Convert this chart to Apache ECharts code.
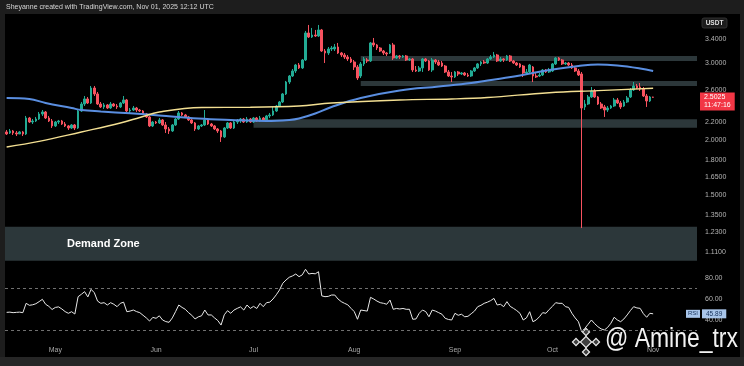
<!DOCTYPE html>
<html><head><meta charset="utf-8">
<script src="https://cdn.jsdelivr.net/npm/echarts@6/dist/echarts.min.js"></script>
<style>html,body{margin:0;padding:0;background:#000;}#c{width:744px;height:366px;}</style>
</head><body><div id="c"></div>
<script>
// ---------- data ----------
const startDate = '2025-04-16';
const dayCount = 213;
const categories = [];
(function () {
  const d0 = new Date(startDate + 'T00:00:00Z');
  for (let i = 0; i < dayCount; i++) {
    categories.push(new Date(d0.getTime() + i * 86400000).toISOString().slice(0, 10));
  }
})();

const monthTickDates = ['2025-05-01','2025-06-01','2025-07-01','2025-08-01','2025-09-01','2025-10-01','2025-11-01'];
const monthTickLabels = ['May','Jun','Jul','Aug','Sep','Oct','Nov'];
const priceTicks = [3.4, 3.0, 2.6, 2.2, 2.0, 1.8, 1.65, 1.5, 1.35, 1.23, 1.11];
const rsiTicks = [40, 60, 80];
const priceAxisMin = 1.0589, priceAxisMax = 3.877;
const rsiAxisMin = 18.1, rsiAxisMax = 94.3;

const opens = [2.086,2.075,2.097,2.075,2.064,2.086,2.064,2.245,2.198,2.210,
2.233,2.293,2.317,2.245,2.210,2.153,2.198,2.210,2.175,2.153,
2.130,2.164,2.130,2.329,2.416,2.481,2.429,2.628,2.547,2.416,
2.379,2.404,2.366,2.416,2.391,2.379,2.429,2.468,2.329,2.341,
2.366,2.341,2.329,2.293,2.257,2.153,2.198,2.187,2.222,2.164,
2.119,2.097,2.164,2.233,2.305,2.281,2.257,2.222,2.187,2.119,
2.153,2.164,2.222,2.175,2.153,2.119,2.097,2.032,2.130,2.187,
2.130,2.198,2.210,2.233,2.198,2.233,2.198,2.245,2.210,2.245,
2.222,2.269,2.281,2.329,2.391,2.442,2.547,2.712,2.799,2.874,
2.966,2.920,3.045,3.509,3.436,3.472,3.454,3.565,3.192,3.159,
3.226,3.226,3.260,3.159,3.126,3.093,3.061,3.013,2.935,2.799,
2.982,3.045,3.029,3.330,3.295,3.243,3.192,3.159,3.159,3.295,
3.077,3.110,3.093,3.110,3.045,3.061,2.889,2.874,2.920,3.061,
3.029,2.889,3.045,3.013,2.997,2.950,2.859,2.799,2.785,2.859,
2.829,2.844,2.814,2.799,2.874,2.920,2.982,3.013,2.997,3.061,
3.093,3.126,3.029,3.061,3.045,3.110,3.029,2.997,2.982,2.950,
2.844,2.859,2.935,2.799,2.799,2.814,2.889,2.859,2.874,2.982,
3.077,3.045,2.982,2.997,2.966,2.920,2.874,2.829,2.379,2.416,
2.507,2.587,2.507,2.416,2.379,2.341,2.366,2.391,2.468,2.429,
2.391,2.442,2.507,2.601,2.656,2.642,2.614,2.520,2.455,2.505];

const closes = [2.064,2.097,2.075,2.064,2.086,2.064,2.245,2.198,2.210,2.233,
2.293,2.317,2.245,2.210,2.153,2.198,2.210,2.175,2.153,2.130,
2.164,2.130,2.329,2.416,2.481,2.429,2.628,2.547,2.416,2.379,
2.404,2.366,2.416,2.391,2.379,2.429,2.468,2.329,2.341,2.366,
2.341,2.329,2.293,2.257,2.153,2.198,2.187,2.222,2.164,2.119,
2.097,2.164,2.233,2.305,2.281,2.257,2.222,2.187,2.119,2.153,
2.164,2.222,2.175,2.153,2.119,2.097,2.032,2.130,2.187,2.130,
2.198,2.210,2.233,2.198,2.233,2.198,2.245,2.210,2.245,2.222,
2.269,2.281,2.329,2.391,2.442,2.547,2.712,2.799,2.874,2.966,
2.920,3.045,3.509,3.436,3.472,3.454,3.565,3.192,3.159,3.226,
3.243,3.260,3.159,3.126,3.093,3.061,3.013,2.935,2.770,2.982,
3.061,3.029,3.330,3.295,3.243,3.192,3.159,3.143,3.295,3.077,
3.110,3.093,3.110,3.045,3.061,2.889,2.874,2.920,3.061,3.029,
2.889,3.045,3.013,2.966,2.950,2.859,2.799,2.785,2.859,2.829,
2.844,2.814,2.799,2.874,2.920,2.982,3.013,2.997,3.061,3.093,
3.126,3.029,3.061,3.045,3.110,3.029,2.997,2.966,2.935,2.844,
2.859,2.966,2.799,2.785,2.814,2.889,2.859,2.889,2.982,3.077,
3.045,2.982,2.997,2.966,2.920,2.874,2.814,2.366,2.416,2.507,
2.587,2.507,2.416,2.366,2.341,2.366,2.391,2.468,2.429,2.379,
2.442,2.494,2.601,2.656,2.628,2.614,2.520,2.455,2.507,2.5025];

const lows = [2.053,2.064,2.053,2.042,2.064,2.042,2.053,2.187,2.175,2.198,
2.222,2.269,2.233,2.198,2.130,2.141,2.175,2.164,2.141,2.108,
2.119,2.108,2.119,2.317,2.391,2.416,2.416,2.520,2.404,2.366,
2.354,2.354,2.354,2.379,2.354,2.366,2.416,2.317,2.305,2.329,
2.317,2.317,2.281,2.245,2.141,2.141,2.175,2.175,2.153,2.075,
2.064,2.086,2.153,2.222,2.269,2.245,2.210,2.175,2.097,2.108,
2.141,2.153,2.164,2.141,2.108,2.075,1.979,2.021,2.119,2.119,
2.119,2.175,2.187,2.187,2.187,2.187,2.187,2.198,2.198,2.210,
2.210,2.245,2.269,2.317,2.379,2.429,2.533,2.684,2.785,2.844,
2.904,2.904,3.029,3.418,3.418,3.436,3.436,3.176,2.997,3.126,
3.192,3.192,3.143,3.093,3.061,3.029,2.997,2.889,2.741,2.770,
2.950,2.997,3.013,3.260,3.209,3.176,3.126,3.110,3.143,3.045,
3.061,3.061,3.077,3.029,3.029,2.859,2.859,2.859,2.859,3.013,
2.874,2.859,2.982,2.950,2.935,2.844,2.785,2.712,2.770,2.799,
2.814,2.799,2.785,2.785,2.859,2.904,2.950,2.982,2.982,3.045,
3.077,3.013,3.013,3.013,3.029,3.013,2.982,2.950,2.920,2.785,
2.829,2.844,2.712,2.770,2.785,2.799,2.844,2.844,2.859,2.966,
3.029,2.966,2.966,2.950,2.904,2.859,2.799,1.259,2.341,2.404,
2.494,2.494,2.404,2.354,2.257,2.317,2.354,2.379,2.416,2.354,
2.379,2.429,2.494,2.587,2.614,2.587,2.507,2.379,2.442,2.496];

const highs = [2.108,2.119,2.108,2.097,2.097,2.097,2.269,2.257,2.233,2.257,
2.317,2.341,2.329,2.269,2.233,2.210,2.222,2.222,2.198,2.164,
2.175,2.175,2.341,2.442,2.520,2.507,2.656,2.656,2.574,2.442,
2.429,2.416,2.442,2.429,2.416,2.442,2.520,2.481,2.366,2.391,
2.379,2.354,2.341,2.305,2.269,2.210,2.210,2.245,2.233,2.198,
2.141,2.175,2.245,2.329,2.317,2.293,2.269,2.233,2.198,2.164,
2.175,2.341,2.233,2.187,2.164,2.130,2.108,2.141,2.198,2.198,
2.210,2.233,2.245,2.245,2.257,2.245,2.257,2.257,2.269,2.257,
2.281,2.305,2.379,2.404,2.455,2.560,2.727,2.814,2.904,2.982,
2.997,3.061,3.546,3.660,3.603,3.565,3.660,3.584,3.226,3.260,
3.277,3.312,3.330,3.176,3.159,3.126,3.093,3.045,2.966,3.013,
3.093,3.077,3.347,3.418,3.312,3.260,3.209,3.176,3.312,3.330,
3.126,3.126,3.126,3.126,3.077,3.077,2.950,2.950,3.077,3.077,
3.045,3.077,3.061,3.045,3.029,2.966,2.889,2.859,2.874,2.874,
2.859,2.859,2.844,2.889,2.935,2.997,3.029,3.045,3.077,3.126,
3.176,3.143,3.093,3.077,3.126,3.126,3.045,3.013,2.997,2.966,
2.904,2.982,2.950,2.859,2.844,2.904,2.904,2.920,2.997,3.093,
3.093,3.061,3.013,3.013,2.997,2.950,2.904,2.859,2.468,2.533,
2.642,2.614,2.520,2.442,2.404,2.391,2.404,2.494,2.494,2.455,
2.468,2.520,2.628,2.712,2.684,2.698,2.642,2.547,2.520,2.510];

const maBlue = [['2025-04-16',2.494],['2025-04-23',2.481],['2025-04-28',2.429],['2025-05-06',2.366],
['2025-05-09',2.341],['2025-05-15',2.323],['2025-05-24',2.301],['2025-06-02',2.275],['2025-06-14',2.239],
['2025-06-24',2.222],['2025-07-05',2.210],['2025-07-12',2.222],['2025-07-15',2.239],['2025-07-20',2.299],
['2025-07-25',2.379],['2025-08-03',2.494],['2025-08-15',2.594],['2025-08-27',2.649],['2025-09-06',2.698],
['2025-09-11',2.734],['2025-09-21',2.806],['2025-09-30',2.889],['2025-10-09',2.950],['2025-10-15',2.974],
['2025-10-21',2.958],['2025-10-28',2.912],['2025-11-01',2.874]];

const maYellow = [['2025-04-16',1.928],['2025-04-26',1.985],['2025-05-09',2.086],['2025-05-21',2.187],
['2025-05-27',2.251],['2025-06-02',2.317],['2025-06-15',2.373],['2025-06-30',2.375],['2025-07-15',2.391],
['2025-07-25',2.429],['2025-08-15',2.468],['2025-08-31',2.481],['2025-09-11',2.500],['2025-09-30',2.564],
['2025-10-15',2.592],['2025-11-01',2.624]];

const rsi = [47.3,47.5,47,47.3,47.5,47,55.9,54,54.5,55.5,
57.5,59.7,55,53,50,52,52.5,50.5,48,46.4,
47.9,45.7,62.2,64.5,67,62,69.2,66,58,55.9,
56.5,54.3,56.5,55,52.7,55.9,57,47.9,48.5,49.5,
48,47,44.5,42,39,42.5,41.6,44,40,38.5,
37.8,42,48,54.3,52,50.2,47,44.5,41,43,
44,49.5,44.8,44.8,42,39.5,35.2,45,48.9,46.4,
49.5,51.1,52.5,49.5,54.3,51,53,51,55.9,52.7,
56.5,57,60,64,68.6,75,78.1,80.7,82,83.8,
81.3,83,88.3,83.8,84.4,84,86,63,62.2,62.5,
63.8,63.8,60,57.5,55.9,54.5,51.1,48,40.7,49.5,
49,48.5,61.6,60,58,56.5,55.9,55,59,50.2,
51,50.5,51,50.2,50.2,40.7,41,46.4,49.5,48,
43.1,49.5,48.5,47,45.5,41.6,40.5,40,46.4,44.5,
45.5,43.1,43.5,46,48.5,52.7,54,55.9,57,58.5,
60.6,54.3,55,52.7,57.5,53,51.1,49,46.4,40,
42,47.9,38.4,40,43.1,47,46.4,50,53,56.5,
55.9,55.9,52.7,52,46.4,42,38.4,28.9,32.1,36,
40,36.5,33.6,31.5,30.5,33,36.9,42.6,40,38.4,
41,44.8,49,52.7,51.5,51.1,46,42.6,46.4,45.89];

const rsiBands = [70, 30];
const lastPrice = 2.5025, lastPriceText = '2.5025', countdownText = '11:47:16';
const rsiLast = 45.89, rsiLastText = '45.89';

const zones = [
  { from: '2025-08-03', low: 3.029, high: 3.110 },
  { from: '2025-08-03', low: 2.656, high: 2.727 },
  { from: '2025-07-01', low: 2.133, high: 2.230 },
  { from: null, low: 1.0606, high: 1.268, label: 'Demand Zone' }
];

const headerText = 'Sheyanne created with TradingView.com, Nov 01, 2025 12:12 UTC';
const watermarkText = '@ Amine_trx';

// ---------- chart ----------
const chart = echarts.init(document.getElementById('c'), null, { renderer: 'canvas', width: 744, height: 366 });
const candleData = opens.map((o, i) => [o, closes[i], lows[i], highs[i]]);
const UP = '#22ab94', DOWN = '#f7525f';
const FONT = 'Liberation Sans';
const HIDDEN_LINE = { color: 'rgba(0,0,0,0)', width: 1 };

const zoneData = zones.map(z => {
  const a = z.from ? { xAxis: z.from, yAxis: z.low } : { yAxis: z.low };
  if (z.label) {
    a.name = z.label;
    a.label = { show: true, formatter: z.label, position: [62, 17], align: 'left', verticalAlign: 'middle',
      color: '#ffffff', fontSize: 11, fontWeight: 'bold', fontFamily: FONT };
  }
  return [a, { yAxis: z.high }];
});

const option = {
  backgroundColor: '#000000',
  animation: false,
  grid: [
    { left: 5, right: 47, top: 14, height: 247 },
    { left: 5, right: 47, top: 263, height: 80 }
  ],
  xAxis: [
    { type: 'category', gridIndex: 0, data: categories, boundaryGap: true,
      axisLine: { show: false }, axisTick: { show: false }, axisLabel: { show: false }, splitLine: { show: false } },
    { type: 'category', gridIndex: 1, data: categories, boundaryGap: true,
      axisLine: { show: false }, axisTick: { show: false }, splitLine: { show: false },
      axisLabel: { show: true, interval: (i, v) => monthTickDates.indexOf(v) >= 0,
        formatter: v => monthTickLabels[monthTickDates.indexOf(v)] || '',
        color: '#a8a8a8', fontSize: 7, margin: 4, fontFamily: FONT } }
  ],
  yAxis: [
    { type: 'log', logBase: 10, gridIndex: 0, position: 'right', min: priceAxisMin, max: priceAxisMax,
      axisLine: { show: false }, axisTick: { show: false }, splitLine: { show: false },
      axisLabel: { customValues: priceTicks, formatter: v => Number(v).toFixed(4),
        color: '#b4b4b4', fontSize: 7, margin: 8, fontFamily: FONT } },
    { type: 'value', gridIndex: 1, position: 'right', min: rsiAxisMin, max: rsiAxisMax,
      axisLine: { show: false }, axisTick: { show: false }, splitLine: { show: false },
      axisLabel: { customValues: rsiTicks, formatter: v => Number(v).toFixed(2),
        color: '#b4b4b4', fontSize: 7, margin: 8, fontFamily: FONT } }
  ],
  series: [
    { type: 'candlestick', xAxisIndex: 0, yAxisIndex: 0, data: candleData, barWidth: 2.2,
      itemStyle: { color: UP, color0: DOWN, borderColor: UP, borderColor0: DOWN, borderWidth: 1 },
      markArea: { silent: true, itemStyle: { color: '#2c373a' }, label: { show: false }, data: zoneData },
      markLine: { silent: true, symbol: ['none', 'none'], lineStyle: HIDDEN_LINE, z: 20,
        data: [{ yAxis: lastPrice, lineStyle: HIDDEN_LINE,
          label: { show: true, position: 'end', distance: 3, offset: [0, 4],
            formatter: '{p|' + lastPriceText + '}\n{t|' + countdownText + '}',
            backgroundColor: '#f23645', padding: [1, 4], color: '#fff', opacity: 1,
            rich: { p: { fontSize: 7, lineHeight: 8, color: '#fff', fontFamily: FONT },
                    t: { fontSize: 7, lineHeight: 8, color: '#fff', fontFamily: FONT } } } }] } },
    { type: 'line', xAxisIndex: 0, yAxisIndex: 0, data: maBlue, showSymbol: false, smooth: 0.4,
      lineStyle: { color: '#5a8ee0', width: 2 }, z: 3 },
    { type: 'line', xAxisIndex: 0, yAxisIndex: 0, data: maYellow, showSymbol: false, smooth: 0.4,
      lineStyle: { color: '#f3df92', width: 1.4 }, z: 3 },
    { type: 'line', xAxisIndex: 1, yAxisIndex: 1, data: rsi, showSymbol: false,
      lineStyle: { color: '#e8e8e8', width: 1 },
      markLine: { silent: true, symbol: ['none', 'none'], label: { show: false }, z: 20,
        data: rsiBands.map(b => ({ yAxis: b, lineStyle: { color: '#707070', type: [3, 3], width: 1 } }))
          .concat([{ yAxis: rsiLast, lineStyle: HIDDEN_LINE,
            label: { show: true, position: 'end', distance: -11, opacity: 1,
              formatter: '{a|RSI}{s|}{b|' + rsiLastText + '}',
              rich: { a: { backgroundColor: '#a9c6ea', color: '#16325a', fontSize: 6, padding: [1, 2], fontFamily: FONT },
                      s: { width: 2 },
                      b: { backgroundColor: '#a9c6ea', color: '#16325a', fontSize: 6.5, padding: [1, 4], fontFamily: FONT } } } }]) } }
  ],
  graphic: [
    { type: 'rect', shape: { x: 0, y: 0, width: 744, height: 14 }, style: { fill: '#1d1d1d' }, z: 100, silent: true },
    { type: 'rect', shape: { x: 0, y: 0, width: 5, height: 366 }, style: { fill: '#1d1d1d' }, z: 100, silent: true },
    { type: 'rect', shape: { x: 740, y: 0, width: 4, height: 366 }, style: { fill: '#1d1d1d' }, z: 100, silent: true },
    { type: 'rect', shape: { x: 0, y: 357, width: 744, height: 9 }, style: { fill: '#262626' }, z: 100, silent: true },
    { type: 'text', x: 6, y: 7, z: 101, silent: true,
      style: { text: headerText, fill: '#d6d6d6', fontSize: 7, fontFamily: FONT, verticalAlign: 'middle' } },
    { type: 'rect', shape: { x: 702, y: 18, width: 25, height: 10, r: 2 }, style: { fill: '#1c1c1c', stroke: '#3a3a3a', lineWidth: 0.8 }, z: 101, silent: true },
    { type: 'text', x: 714.5, y: 23, z: 102, silent: true,
      style: { text: 'USDT', fill: '#e0e0e0', fontSize: 6.5, fontFamily: FONT, fontWeight: 'bold', align: 'center', verticalAlign: 'middle' } },
    { type: 'group', x: 586, y: 342, z: 110, silent: true, children: [
      { type: 'rect', shape: { x: -4, y: -4, width: 8, height: 8 }, rotation: Math.PI / 4, style: { fill: 'rgba(255,255,255,0.25)', stroke: 'rgba(255,255,255,0.9)', lineWidth: 1.2 } },
      { type: 'rect', x: 0, y: -10, shape: { x: -2.5, y: -2.5, width: 5, height: 5 }, rotation: Math.PI / 4, style: { fill: 'rgba(255,255,255,0.25)', stroke: 'rgba(255,255,255,0.9)', lineWidth: 1.2 } },
      { type: 'rect', x: 0, y: 10, shape: { x: -2.5, y: -2.5, width: 5, height: 5 }, rotation: Math.PI / 4, style: { fill: 'rgba(255,255,255,0.25)', stroke: 'rgba(255,255,255,0.9)', lineWidth: 1.2 } },
      { type: 'rect', x: -10, y: 0, shape: { x: -2.5, y: -2.5, width: 5, height: 5 }, rotation: Math.PI / 4, style: { fill: 'rgba(255,255,255,0.25)', stroke: 'rgba(255,255,255,0.9)', lineWidth: 1.2 } },
      { type: 'rect', x: 10, y: 0, shape: { x: -2.5, y: -2.5, width: 5, height: 5 }, rotation: Math.PI / 4, style: { fill: 'rgba(255,255,255,0.25)', stroke: 'rgba(255,255,255,0.9)', lineWidth: 1.2 } }
    ] },
    { type: 'text', x: 605, y: 340, scaleX: 0.85, z: 110, silent: true,
      style: { text: watermarkText, fill: 'rgba(255,255,255,0.95)', fontSize: 27, fontFamily: FONT,
        verticalAlign: 'middle', shadowColor: 'rgba(0,0,0,0.5)', shadowBlur: 2 } }
  ]
};
chart.setOption(option);
</script>
</body></html>
